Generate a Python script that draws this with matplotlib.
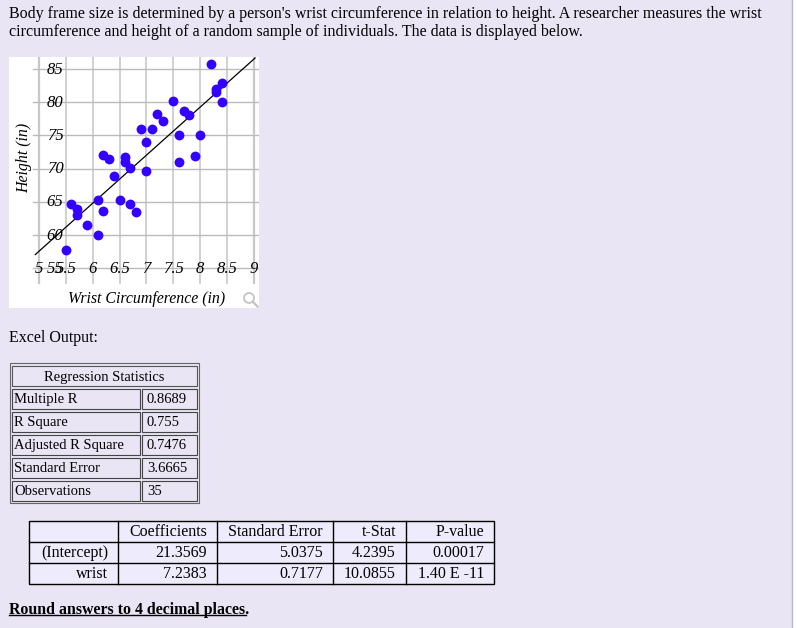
import matplotlib
matplotlib.use('Agg')
import matplotlib.pyplot as plt
import numpy as np
from matplotlib.patches import Rectangle, Circle

plt.rcParams['font.family'] = ['Liberation Serif', 'DejaVu Serif']

# Dati
wrist = [8.2, 8.4, 8.3, 8.3, 8.4, 7.5, 7.7, 7.8, 7.2, 7.3, 6.9, 7.1, 7.6, 8.0, 7.0, 7.9, 7.6, 6.2,
         6.3, 6.6, 6.6, 6.7, 7.0, 6.4, 6.1, 6.5, 5.6, 6.7, 6.8, 6.2, 5.7, 5.7, 5.9, 6.1, 5.5]
height = [85.7, 82.9, 82.0, 81.6, 80.0, 80.2, 78.7, 78.0, 78.2, 77.2, 76.0, 75.9, 75.0, 75.0, 74.0, 71.9, 71.0, 72.1,
          71.4, 71.7, 71.0, 70.1, 69.6, 68.9, 65.3, 65.3, 64.6, 64.6, 63.4, 63.6, 63.9, 63.0, 61.5, 60.0, 57.8]
intercept = 21.3569
slope = 7.2383
line_x = [4.93, 9.02]
x_ticks = [5, 5.5, 6, 6.5, 7, 7.5, 8, 8.5, 9]
y_ticks = [55, 60, 65, 70, 75, 80, 85]

stats_labels = ['Multiple R', 'R Square', 'Adjusted R Square', 'Standard Error', 'Observations']
stats_values = ['0.8689', '0.755', '0.7476', '3.6665', '35']

coef_header = ['', 'Coefficients', 'Standard Error', 't-Stat', 'P-value']
coef_rows = [['(Intercept)', '21.3569', '5.0375', '4.2395', '0.00017'],
             ['wrist', '7.2383', '0.7177', '10.0855', '1.40 E -11']]

W, H = 797, 628
BG = '#e9e5f4'
fig = plt.figure(figsize=(W / 100, H / 100), dpi=100, facecolor=BG)

# Area bianca del grafico
ax = fig.add_axes([9 / W, 1 - 308 / H, 250 / W, 251 / H])
ax.set_xlim(4.442, 9.093)
ax.set_ylim(49.0, 86.8)
for s in ax.spines.values():
    s.set_visible(False)
ax.set_xticks([])
ax.set_yticks([])
ax.set_zorder(2)

grid_bottom = 52.7
grid_left = 4.89
for xt in x_ticks:
    lw = 1.6 if xt in (5, 9) else 1.2
    ax.plot([xt, xt], [grid_bottom, 86.8], color='#c8c8c8', lw=lw, zorder=1)
for yt in y_ticks:
    ax.plot([grid_left, 9.093], [yt, yt], color='#bbbbbb', lw=1.0, zorder=1)

ax.plot(line_x, [intercept + slope * v for v in line_x], color='black', lw=0.9, zorder=3)
ax.scatter(wrist, height, s=50, color='#3300ff', zorder=4, linewidths=0)

for xt in x_ticks:
    ax.text(xt, 54.85, f'{xt:g}', ha='center', va='center', style='italic', fontsize=12, zorder=5)
for yt in y_ticks:
    ax.text(5.3, yt - 0.1, str(yt), ha='center', va='center', style='italic', fontsize=12, zorder=5)

ax.text(7.0, 50.3, 'Wrist Circumference (in)', ha='center', va='center', style='italic', fontsize=11.45)
ax.text(4.72, 71.6, 'Height (in)', rotation=90, ha='center', va='center', style='italic', fontsize=11.45)

# Tutto il resto in coordinate pixel
page = fig.add_axes([0, 0, 1, 1])
page.set_xlim(0, W)
page.set_ylim(H, 0)
page.axis('off')
page.set_zorder(3)
page.patch.set_alpha(0)

page.plot([792.5, 792.5], [0, H], color='#b9b5d8', lw=1.0)
page.add_patch(Rectangle((793, 0), 4, H, color='white', lw=0))

# Lente
page.add_patch(Circle((249, 298), 5, fill=False, ec='#c4c4c4', lw=1.3))
page.plot([253, 257.5], [302, 306.5], color='#c4c4c4', lw=1.7)

FS = 11.53
page.text(9, 14, "Body frame size is determined by a person's wrist circumference in relation to height. A researcher measures the wrist",
          va='center', fontsize=FS)
page.text(9, 32, 'circumference and height of a random sample of individuals. The data is displayed below.',
          va='center', fontsize=FS)
page.text(9, 338, 'Excel Output:', va='center', fontsize=FS)


def cell(x0, y0, x1, y1, color='#444444', lw=0.8, face='none'):
    page.add_patch(Rectangle((x0, y0), x1 - x0, y1 - y0, fc=face, ec=color, lw=lw))


# Tabella Regression Statistics
FS2 = 10.5
cell(10, 362.5, 199, 503, color='#666666')
cell(12.5, 365.5, 197, 386, color='#555555')
page.text(104.5, 377, 'Regression Statistics', ha='center', va='center', fontsize=FS2)
row_tops = [388.5, 411.5, 434.5, 457.5, 480.5]
for top, lab, val in zip(row_tops, stats_labels, stats_values):
    cell(12.5, top, 140, top + 20)
    cell(142.5, top, 197, top + 20)
    page.text(14, top + 11, lab, va='center', fontsize=FS2)
    page.text(147, top + 11, val, va='center', fontsize=FS2)

# Tabella dei coefficienti
col_edges = [29.5, 118.5, 217.5, 333.5, 406.5, 494.5]
row_edges = [520.5, 541.5, 562.5, 583.5]
page.add_patch(Rectangle((col_edges[0], row_edges[0]), col_edges[-1] - col_edges[0], row_edges[-1] - row_edges[0],
                         fc='#eeebfc', ec='black', lw=1.0))
for cx in col_edges[1:-1]:
    page.plot([cx, cx], [row_edges[0], row_edges[-1]], color='black', lw=1.0)
for ry in row_edges[1:-1]:
    page.plot([col_edges[0], col_edges[-1]], [ry, ry], color='black', lw=1.0)

for j, txt in enumerate(coef_header):
    page.text(col_edges[j + 1] - 10.5, 532, txt, ha='right', va='center', fontsize=FS)
for i, row in enumerate(coef_rows):
    for j, txt in enumerate(row):
        page.text(col_edges[j + 1] - 10.5, 553 + 21 * i, txt, ha='right', va='center', fontsize=FS)

page.text(9, 609.5, 'Round answers to 4 decimal places.', va='center', fontweight='bold', fontsize=11.45)
page.plot([9, 246], [614.5, 614.5], color='black', lw=1.0)

fig.savefig('out.png', dpi=100, facecolor=BG)
